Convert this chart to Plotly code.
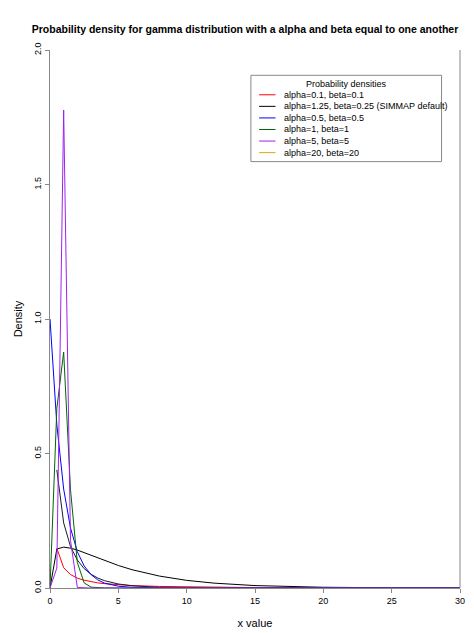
import plotly.graph_objects as go

# x sample points
x_vals = [0, 0.5, 1, 1.5, 2, 2.5, 3, 3.5, 4, 5, 6, 8, 10, 12, 15, 20, 25, 30]

# densities
red_a01 = [None, 0.148, 0.0755, 0.050, 0.0366, 0.029, 0.023, 0.019, 0.0161, 0.0119, 0.0091,
           0.0058, 0.0039, 0.0028, 0.0016, 0.00076, 0.00038, 0.0002]
black_a125 = [0, 0.145, 0.152, 0.148, 0.141, 0.131, 0.121, 0.111, 0.101, 0.0837, 0.068,
              0.0444, 0.0284, 0.0181, 0.009, 0.0028, 0.00084, 0.00025]
black_a05 = [None, 0.439, 0.242, 0.154, 0.104, 0.072, 0.051, 0.037, 0.027, 0.015, 0.0081,
             0.0026, 0.00086, 0.0003, 0.00005, 0, 0, 0]
blue_a1 = [1.0, 0.607, 0.368, 0.223, 0.135, 0.082, 0.050, 0.030, 0.018, 0.0067, 0.0025,
           0.0003, 0.00005, 0, 0, 0, 0, 0]
green_a5 = [0, 0.668, 0.877, 0.365, 0.0946, 0.019, 0.0032, 0.0005, 0.0001, 0, 0,
            0, 0, 0, 0, 0, 0, 0]
purple_a20 = [0, 0.074, 1.777, 0.177, 0.0019, 0, 0, 0, 0, 0, 0, 0, 0, 0, 0, 0, 0, 0]

curves = [
    (red_a01, "red"),
    (black_a125, "black"),
    (black_a05, "#1a1a33"),
    (blue_a1, "blue"),
    (green_a5, "darkgreen"),
    (purple_a20, "#a020f0"),
]

legend_names = ["alpha=0.1, beta=0.1", "alpha=1.25, beta=0.25 (SIMMAP default)",
                "alpha=0.5, beta=0.5", "alpha=1, beta=1", "alpha=5, beta=5",
                "alpha=20, beta=20"]
legend_colors = ["red", "black", "blue", "darkgreen", "#a020f0", "#d4b000"]

fig = go.Figure()
for ys, col in curves:
    fig.add_trace(go.Scatter(x=x_vals, y=ys, mode="lines", showlegend=False,
                             line=dict(color=col, width=1)))

fig.update_layout(
    width=474, height=633,
    plot_bgcolor="white", paper_bgcolor="white",
    margin=dict(l=42, r=22, t=42, b=53),
    showlegend=False,
    font=dict(family="Liberation Sans, Arial", size=9, color="black"),
    title=dict(text="<b>Probability density for gamma distribution with a alpha and beta equal to one another</b>",
               x=0.5, xanchor="center", y=0.972, font=dict(size=10.5)),
    xaxis=dict(range=[0, 30], tickvals=[0, 5, 10, 15, 20, 25, 30], showgrid=False,
               zeroline=False, showline=True, linecolor="#888", ticks="outside",
               ticklen=4, tickcolor="#888", automargin=False,
               title=dict(text="x value", standoff=14)),
    yaxis=dict(range=[0, 2], tickvals=[0, 0.5, 1, 1.5, 2],
               ticktext=["0.0", "0.5", "1.0", "1.5", "2.0"], tickangle=-90,
               showgrid=False, zeroline=False, showline=True, linecolor="#888",
               ticks="outside", ticklen=4, tickcolor="#888", automargin=False,
               title=dict(text="Density", standoff=8)),
)
fig.add_shape(type="line", xref="paper", yref="paper", x0=1, x1=1, y0=0, y1=1,
              line=dict(color="#888", width=1))

# hand-built compact legend box (R style)
lx0, lx1, ly1 = 0.49, 0.955, 0.953
row = 0.0215
ly0 = ly1 - row * 7 - 0.01
fig.add_shape(type="rect", xref="paper", yref="paper", x0=lx0, x1=lx1, y0=ly0, y1=ly1,
              line=dict(color="#888", width=1), fillcolor="white")
fig.add_annotation(xref="paper", yref="paper", x=(lx0 + lx1) / 2, y=ly1 - 0.004,
                   text="Probability densities", showarrow=False,
                   xanchor="center", yanchor="top", font=dict(size=9))
for i, (name, col) in enumerate(zip(legend_names, legend_colors)):
    yy = ly1 - row * (i + 1.5) - 0.004
    fig.add_shape(type="line", xref="paper", yref="paper", x0=lx0 + 0.02, x1=lx0 + 0.06,
                  y0=yy, y1=yy, line=dict(color=col, width=1))
    fig.add_annotation(xref="paper", yref="paper", x=lx0 + 0.075, y=yy, text=name,
                       showarrow=False, xanchor="left", yanchor="middle", font=dict(size=9))

fig.write_html("out.html")
